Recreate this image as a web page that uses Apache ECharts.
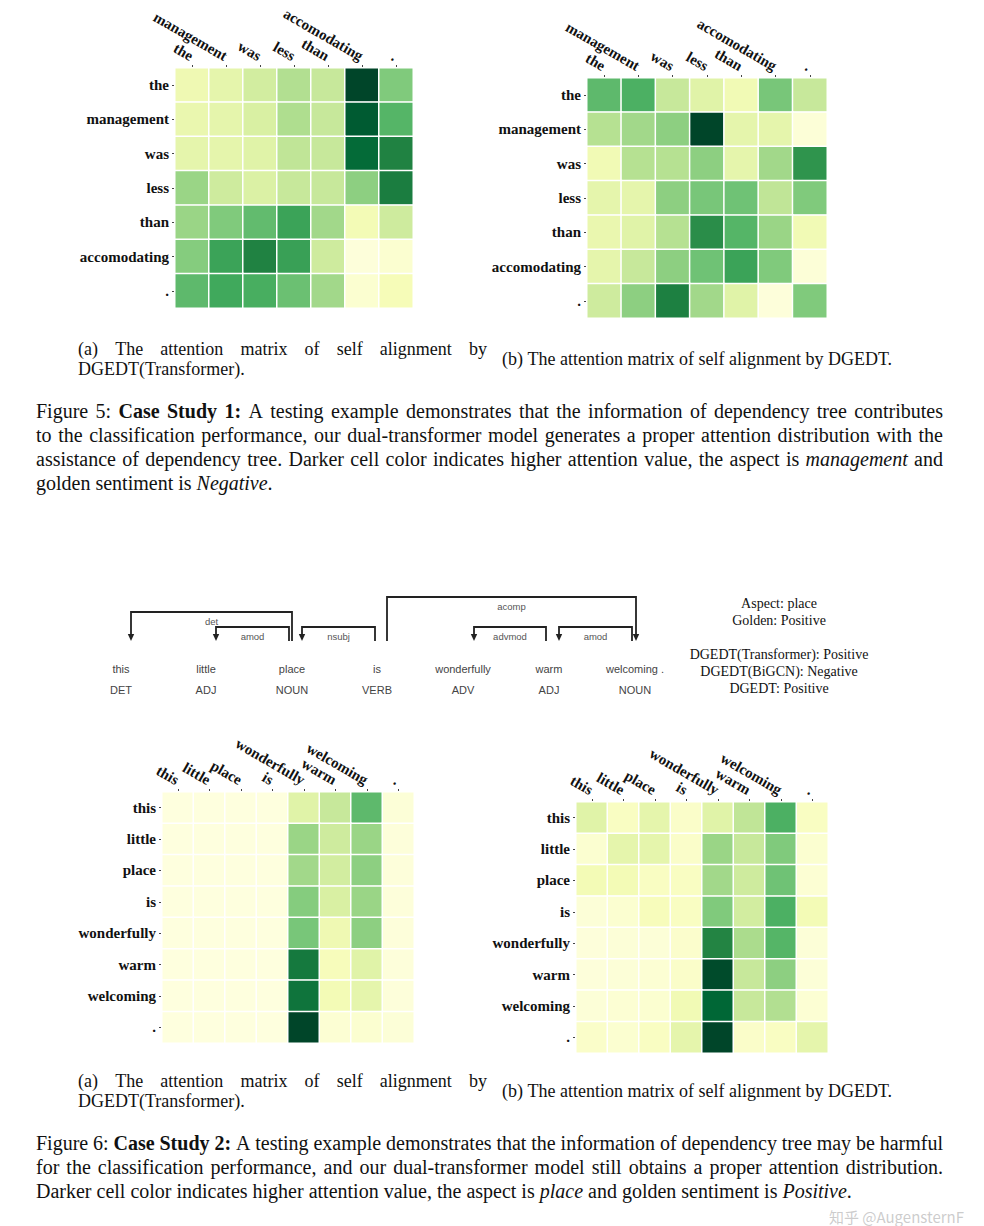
<!DOCTYPE html>
<html>
<head>
<meta charset="utf-8">
<script src="https://cdn.jsdelivr.net/npm/echarts@6/dist/echarts.min.js"></script>
<style>
html,body{margin:0;padding:0;background:#fff;}
#chart{width:984px;height:1226px;}
</style>
</head>
<body>
<div id="chart"></div>
<script>
// ---------------- DATA ----------------
const tokens5 = ['the','management','was','less','than','accomodating','.'];
const tokens6 = ['this','little','place','is','wonderfully','warm','welcoming','.'];

// Figure 5 (a): DGEDT(Transformer) self alignment (rows = query token)
const fig5a = [
  [0.16, 0.20, 0.27, 0.36, 0.30, 1.00, 0.48],
  [0.18, 0.20, 0.25, 0.37, 0.30, 0.92, 0.58],
  [0.20, 0.20, 0.22, 0.32, 0.30, 0.86, 0.76],
  [0.42, 0.28, 0.24, 0.30, 0.30, 0.45, 0.78],
  [0.42, 0.48, 0.55, 0.65, 0.40, 0.14, 0.28],
  [0.47, 0.65, 0.76, 0.66, 0.28, 0.03, 0.06],
  [0.56, 0.63, 0.61, 0.53, 0.40, 0.06, 0.13]
];
// Figure 5 (b): DGEDT self alignment
const fig5b = [
  [0.56, 0.60, 0.30, 0.22, 0.15, 0.50, 0.30],
  [0.35, 0.40, 0.45, 1.00, 0.20, 0.20, 0.04],
  [0.15, 0.35, 0.35, 0.45, 0.20, 0.40, 0.70],
  [0.20, 0.20, 0.45, 0.50, 0.52, 0.32, 0.48],
  [0.18, 0.22, 0.35, 0.72, 0.58, 0.42, 0.15],
  [0.20, 0.30, 0.45, 0.52, 0.65, 0.48, 0.04],
  [0.28, 0.45, 0.77, 0.40, 0.22, 0.03, 0.48]
];
// Figure 6 (a): DGEDT(Transformer) self alignment
const fig6a = [
  [0.02, 0.02, 0.02, 0.02, 0.22, 0.30, 0.56, 0.04],
  [0.02, 0.02, 0.02, 0.02, 0.42, 0.28, 0.42, 0.03],
  [0.02, 0.02, 0.02, 0.02, 0.40, 0.27, 0.45, 0.03],
  [0.02, 0.02, 0.02, 0.02, 0.47, 0.25, 0.42, 0.03],
  [0.02, 0.02, 0.02, 0.02, 0.50, 0.16, 0.45, 0.03],
  [0.02, 0.02, 0.02, 0.02, 0.80, 0.12, 0.22, 0.03],
  [0.02, 0.02, 0.02, 0.02, 0.82, 0.14, 0.20, 0.03],
  [0.02, 0.02, 0.02, 0.02, 1.00, 0.05, 0.06, 0.04]
];
// Figure 6 (b): DGEDT self alignment
const fig6b = [
  [0.22, 0.10, 0.20, 0.08, 0.22, 0.32, 0.60, 0.10],
  [0.06, 0.20, 0.20, 0.08, 0.42, 0.30, 0.48, 0.06],
  [0.14, 0.14, 0.10, 0.10, 0.40, 0.28, 0.52, 0.05],
  [0.04, 0.06, 0.12, 0.10, 0.48, 0.27, 0.60, 0.14],
  [0.03, 0.04, 0.04, 0.07, 0.75, 0.38, 0.58, 0.04],
  [0.03, 0.04, 0.05, 0.08, 0.98, 0.30, 0.45, 0.04],
  [0.04, 0.05, 0.06, 0.15, 0.88, 0.30, 0.36, 0.05],
  [0.08, 0.06, 0.10, 0.20, 1.00, 0.08, 0.10, 0.20]
];

// Dependency parse of case study 2
const depWords = ['this','little','place','is','wonderfully','warm','welcoming .'];
const depPos = ['DET','ADJ','NOUN','VERB','ADV','ADJ','NOUN'];
const depArcLabels = ['det','amod','nsubj','acomp','advmod','amod'];
const depArcLevels = [2, 1, 1, 3, 1, 1];

const aspectInfo = ['Aspect: place', 'Golden: Positive'];
const predInfo = ['DGEDT(Transformer): Positive', 'DGEDT(BiGCN): Negative', 'DGEDT: Positive'];

const subA = ['(a) The attention matrix of self alignment by', 'DGEDT(Transformer).'];
const subB = '(b) The attention matrix of self alignment by DGEDT.';
const cap5 = [
  'Figure 5: **Case Study 1:** A testing example demonstrates that the information of dependency tree contributes',
  'to the classification performance, our dual-transformer model generates a proper attention distribution with the',
  'assistance of dependency tree.  Darker cell color indicates higher attention value, the aspect is *management* and',
  'golden sentiment is *Negative*.'
];
const cap6 = [
  'Figure 6: **Case Study 2:** A testing example demonstrates that the information of dependency tree may be harmful',
  'for the classification performance, and our dual-transformer model still obtains a proper attention distribution.',
  'Darker cell color indicates higher attention value, the aspect is *place* and golden sentiment is *Positive*.'
];
const watermark = '知乎 @AugensternF';

// ---------------- LAYOUT ----------------
const YLGN = ['#ffffe5','#f7fcb9','#d9f0a3','#addd8e','#78c679','#41ab5d','#238443','#006837','#004529'];
const SERIF = '"Liberation Serif", "Times New Roman", serif';
const SANS = '"Liberation Sans", Arial, sans-serif';
const gridBoxes = [
  {left: 175, top: 68, width: 238, height: 240},
  {left: 587, top: 78, width: 240, height: 240},
  {left: 162, top: 792, width: 252, height: 251},
  {left: 576, top: 802, width: 252, height: 251}
];
const mats = [fig5a, fig5b, fig6a, fig6b];
const toks = [tokens5, tokens5, tokens6, tokens6];

const depWordX = [121, 206, 292, 377, 463, 549, 635];
const depArcArrowX = [131, 216, 302, 636, 474, 559];
const depArcTailX = [292, 289, 375, 387, 546, 632];
const depLevelY = {1: 627, 2: 612, 3: 597};
const depBottom = 641;

// ---------------- HELPERS ----------------
const mctx = document.createElement('canvas').getContext('2d');
function fontStr(sz, b, i, fam){ return (i?'italic ':'') + (b?'bold ':'') + sz + 'px ' + fam; }
function measure(t, sz, b, i, fam){ mctx.font = fontStr(sz,b,i,fam); return mctx.measureText(t).width; }
function parseRuns(str){
  const runs = [];
  str.split(/(\*\*[^*]+\*\*|\*[^*]+\*)/).forEach(s => {
    if (!s) return;
    if (s.startsWith('**')) runs.push({t: s.slice(2,-2), b: true, i: false});
    else if (s.startsWith('*')) runs.push({t: s.slice(1,-1), b: false, i: true});
    else runs.push({t: s, b: false, i: false});
  });
  return runs;
}
function lineElems(str, x0, x1, y, sz, justify){
  const words = [[]];
  parseRuns(str).forEach(r => {
    r.t.split(' ').forEach((p, k) => {
      if (k > 0) words.push([]);
      if (p) words[words.length-1].push({t: p, b: r.b, i: r.i});
    });
  });
  const ws = words.filter(w => w.length);
  const widths = ws.map(w => w.reduce((s, pc) => s + measure(pc.t, sz, pc.b, pc.i, SERIF), 0));
  const total = widths.reduce((a,b)=>a+b, 0);
  const gap = justify && ws.length > 1 ? (x1 - x0 - total) / (ws.length - 1) : measure(' ', sz, false, false, SERIF);
  const els = [];
  let x = x0;
  ws.forEach((w, k) => {
    let px = x;
    w.forEach(pc => {
      els.push(txt(pc.t, px, y, sz, SERIF, '#111', 'left', pc.b ? 'bold' : 'normal', pc.i ? 'italic' : 'normal'));
      px += measure(pc.t, sz, pc.b, pc.i, SERIF);
    });
    x += widths[k] + gap;
  });
  return els;
}
function txt(t, x, y, sz, fam, fill, align, weight, style){
  return {type: 'text', x: x, y: y, silent: true,
    style: {text: t, fontSize: sz, fontFamily: fam, fontWeight: weight || 'normal', fontStyle: style || 'normal',
      fill: fill, textAlign: align, align: align, textVerticalAlign: 'middle', verticalAlign: 'middle'}};
}

// ---------------- OPTION ----------------
const grid = [], xAxis = [], yAxis = [], series = [], visualMap = [];
const labelStyle = {fontFamily: SERIF, fontWeight: 'bold', fontSize: 15, color: '#111', interval: 0};
const tickStyle = {show: true, alignWithLabel: true, length: 3, lineStyle: {color: '#444', width: 1}};
mats.forEach((m, k) => {
  grid.push(Object.assign({}, gridBoxes[k]));
  xAxis.push({gridIndex: k, type: 'category', data: toks[k], position: 'top',
    axisLine: {show: false}, axisTick: tickStyle, splitLine: {show: false},
    axisLabel: Object.assign({rotate: 30, margin: 11}, labelStyle)});
  yAxis.push({gridIndex: k, type: 'category', data: toks[k], inverse: true,
    axisLine: {show: false}, axisTick: tickStyle, splitLine: {show: false},
    axisLabel: Object.assign({margin: 6}, labelStyle)});
  const data = [];
  m.forEach((row, r) => row.forEach((v, c) => data.push([c, r, v])));
  series.push({type: 'heatmap', xAxisIndex: k, yAxisIndex: k, data: data,
    itemStyle: {borderColor: '#ffffff', borderWidth: 1.5}, emphasis: {disabled: true}});
  visualMap.push({type: 'continuous', show: false, seriesIndex: k, min: 0, max: 1, inRange: {color: YLGN}});
});

const graphics = [];
// sub captions
[[349, 369, 359], [1081, 1101, 1091]].forEach(ys => {
  graphics.push(...lineElems(subA[0], 78, 487, ys[0], 18, true));
  graphics.push(...lineElems(subA[1], 78, 487, ys[1], 18, false));
  graphics.push(...lineElems(subB, 502, 889, ys[2], 18, false));
});
// figure captions
cap5.forEach((l, k) => graphics.push(...lineElems(l, 36, 943, 411 + 24*k, 20, k < cap5.length - 1)));
cap6.forEach((l, k) => graphics.push(...lineElems(l, 36, 943, 1143 + 24*k, 20, k < cap6.length - 1)));

// dependency tree
depWords.forEach((w, k) => {
  graphics.push(txt(w, depWordX[k], 669, 11, SANS, '#444', 'center'));
  graphics.push(txt(depPos[k], depWordX[k], 690, 11, SANS, '#444', 'center'));
});
depArcLabels.forEach((lab, k) => {
  const ly = depLevelY[depArcLevels[k]];
  const xa = depArcArrowX[k], xt = depArcTailX[k];
  graphics.push({type: 'polyline', silent: true,
    shape: {points: [[xa, depBottom - 6], [xa, ly], [xt, ly], [xt, depBottom]]},
    style: {stroke: '#222', lineWidth: 1.8, fill: null}});
  graphics.push({type: 'polygon', silent: true,
    shape: {points: [[xa - 3.2, depBottom - 7], [xa + 3.2, depBottom - 7], [xa, depBottom]]},
    style: {fill: '#222'}});
  graphics.push(txt(lab, (xa + xt) / 2, ly + 9, 9.5, SANS, '#555', 'center'));
});
// aspect info
aspectInfo.forEach((t, k) => graphics.push(txt(t, 779, 603 + 17*k, 14, SERIF, '#111', 'center')));
predInfo.forEach((t, k) => graphics.push(txt(t, 779, 654 + 17*k, 14, SERIF, '#111', 'center')));
// watermark (placed just below the last caption line)
graphics.push(txt(watermark, 964, 1216, 15, '"Noto Sans CJK SC", sans-serif', 'rgba(170,170,170,0.6)', 'right'));

const chart = echarts.init(document.getElementById('chart'), null, {renderer: 'svg', width: 984, height: 1226});
chart.setOption({
  backgroundColor: '#ffffff',
  animation: false,
  grid: grid, xAxis: xAxis, yAxis: yAxis, visualMap: visualMap, series: series,
  graphic: {elements: graphics}
});
</script>
</body>
</html>
